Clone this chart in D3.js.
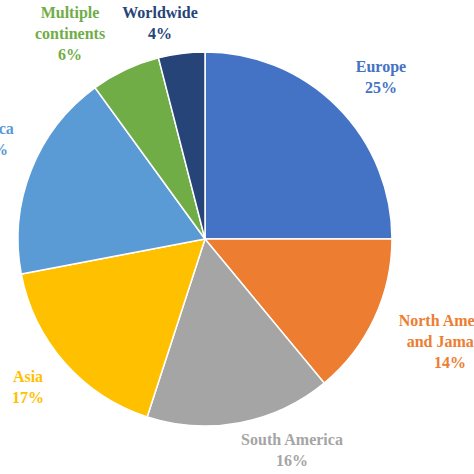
<!DOCTYPE html>
<html>
<head>
<meta charset="utf-8">
<script src="https://cdn.jsdelivr.net/npm/d3@7"></script>
<style>
  body { margin: 0; background: #fff; }
  svg text { font-family: "Liberation Serif", "Times New Roman", serif; font-weight: bold; font-size: 16px; }
</style>
</head>
<body>
<svg id="chart" width="474" height="474"></svg>
<script>
// data, clockwise from 12 o'clock
const regions = ["Europe", "North America and Jamaica", "South America", "Asia", "Africa", "Multiple continents", "Worldwide"];
const shares = [25, 14, 16, 17, 18, 6, 4];
const colors = ["#4472C4", "#ED7D31", "#A5A5A5", "#FFC000", "#5B9BD5", "#70AD47", "#264478"];

// label layout: lines of text and where they sit
const labelLines = [
  ["Europe", "25%"],
  ["North America", "and Jamaica", "14%"],
  ["South America", "16%"],
  ["Asia", "17%"],
  ["Africa", "18%"],
  ["Multiple", "continents", "6%"],
  ["Worldwide", "4%"]
];
const labelPos = [[381, 72], [450, 326], [292, 445], [28, 382], [-8, 134], [70, 18], [160, 18]];

const svg = d3.select("#chart");
const cx = 205, cy = 239, r = 187;

const pie = d3.pie().sort(null).value(d => d);
const arc = d3.arc().innerRadius(0).outerRadius(r);

const g = svg.append("g").attr("transform", `translate(${cx},${cy})`);
g.selectAll("path")
  .data(pie(shares))
  .join("path")
  .attr("d", arc)
  .attr("fill", (d, i) => colors[i])
  .attr("stroke", "#fff")
  .attr("stroke-width", 1.5);

regions.forEach((name, i) => {
  const t = svg.append("text")
    .attr("x", labelPos[i][0])
    .attr("y", labelPos[i][1])
    .attr("text-anchor", "middle")
    .attr("fill", colors[i]);
  labelLines[i].forEach((line, j) => {
    t.append("tspan")
      .attr("x", labelPos[i][0])
      .attr("dy", j === 0 ? 0 : 21)
      .text(line);
  });
});
</script>
</body>
</html>
